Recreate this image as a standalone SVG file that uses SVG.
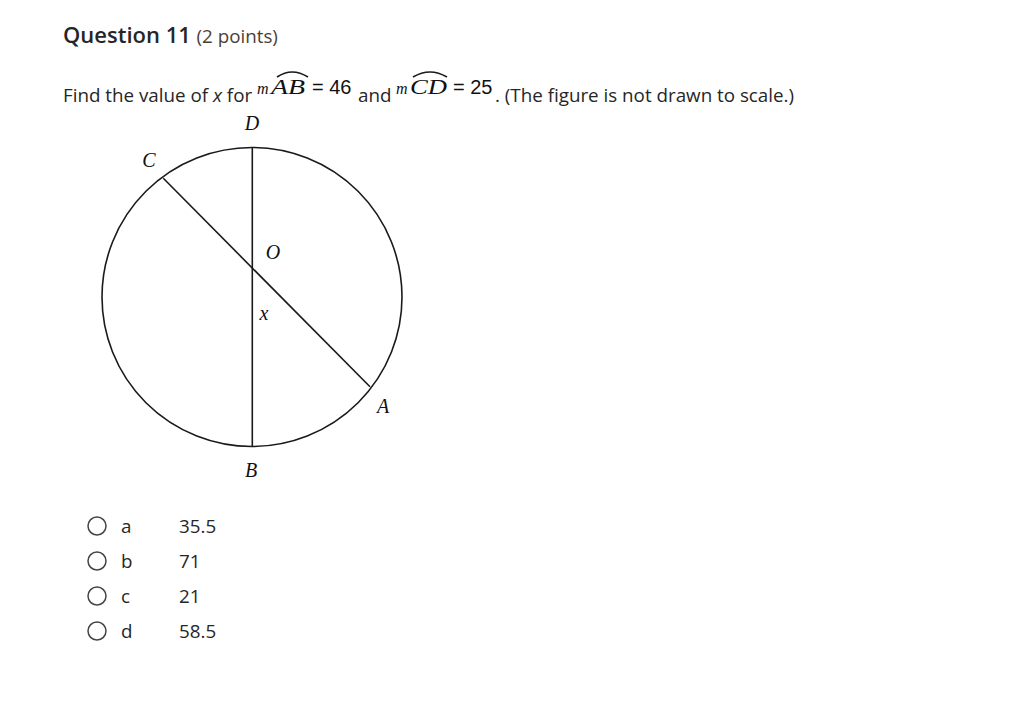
<svg xmlns="http://www.w3.org/2000/svg" width="1024" height="711" viewBox="0 0 1024 711">
<style>
.ui{font-family:"Open Sans","Noto Sans",sans-serif;fill:#262626}
.m{font-family:"Liberation Serif",serif;font-style:italic;fill:#111}
.n{font-family:"Liberation Sans",sans-serif;fill:#111}
.lbl{font-family:"Liberation Serif",serif;font-style:italic;fill:#111;font-size:20px;text-anchor:middle}
.geo{fill:none;stroke:#1a1a1a;stroke-width:1.6}
.rad{fill:#fff;stroke:#444;stroke-width:1.5}
</style>
<rect width="1024" height="711" fill="#fff"/>
<g id="title">
<text class="ui" x="63" y="43" font-size="22" font-weight="600">Question 11 <tspan font-size="18.8" font-weight="400" fill="#4a3f38">(2 points)</tspan></text>
</g>
<g id="prompt">
<text class="ui" x="63" y="102" font-size="18.8">Find the value of <tspan font-style="italic">x</tspan> for</text>
<text class="m" x="257" y="94" font-size="16">m</text>
<text class="m" x="271" y="94" font-size="20" textLength="34" lengthAdjust="spacingAndGlyphs">AB</text>
<text class="n" x="312" y="94" font-size="20">= 46</text>
<path class="geo" d="M277 77 Q292 67 308 77" stroke-width="1.4"/>
<text class="ui" x="358" y="102" font-size="18.8">and</text>
<text class="m" x="396" y="94" font-size="16">m</text>
<text class="m" x="410" y="94" font-size="20" textLength="37" lengthAdjust="spacingAndGlyphs">CD</text>
<text class="n" x="453" y="94" font-size="20">= 25</text>
<path class="geo" d="M413 77 Q430 67 447 77" stroke-width="1.4"/>
<text class="ui" x="495" y="102" font-size="18.8">. (The figure is not drawn to scale.)</text>
</g>
<g id="figure">
<ellipse id="circle" class="geo" cx="252" cy="297" rx="150" ry="149.5" stroke-width="1.8"/>
<g id="connectors">
<line class="geo" x1="252.3" y1="147.5" x2="252.3" y2="446.5" stroke="#444" stroke-width="1.8"/>
<line class="geo" x1="163.3" y1="178.3" x2="370" y2="386.7"/>
</g>
<g id="labels">
<text class="lbl" x="252" y="130">D</text>
<text class="lbl" x="149" y="167">C</text>
<text class="lbl" x="273" y="259">O</text>
<text class="lbl" x="264" y="320">x</text>
<text class="lbl" x="383" y="413">A</text>
<text class="lbl" x="251" y="477">B</text>
</g>
</g>
<g id="options">
<g id="opt-a"><circle class="rad" cx="97" cy="526" r="9"/><text class="ui" x="121" y="533" font-size="18.8">a</text><text class="ui" x="179" y="533" font-size="18.8">35.5</text></g>
<g id="opt-b"><circle class="rad" cx="97" cy="561" r="9"/><text class="ui" x="121" y="568" font-size="18.8">b</text><text class="ui" x="179" y="568" font-size="18.8">71</text></g>
<g id="opt-c"><circle class="rad" cx="97" cy="596" r="9"/><text class="ui" x="121" y="603" font-size="18.8">c</text><text class="ui" x="179" y="603" font-size="18.8">21</text></g>
<g id="opt-d"><circle class="rad" cx="97" cy="631" r="9"/><text class="ui" x="121" y="638" font-size="18.8">d</text><text class="ui" x="179" y="638" font-size="18.8">58.5</text></g>
</g>
</svg>
